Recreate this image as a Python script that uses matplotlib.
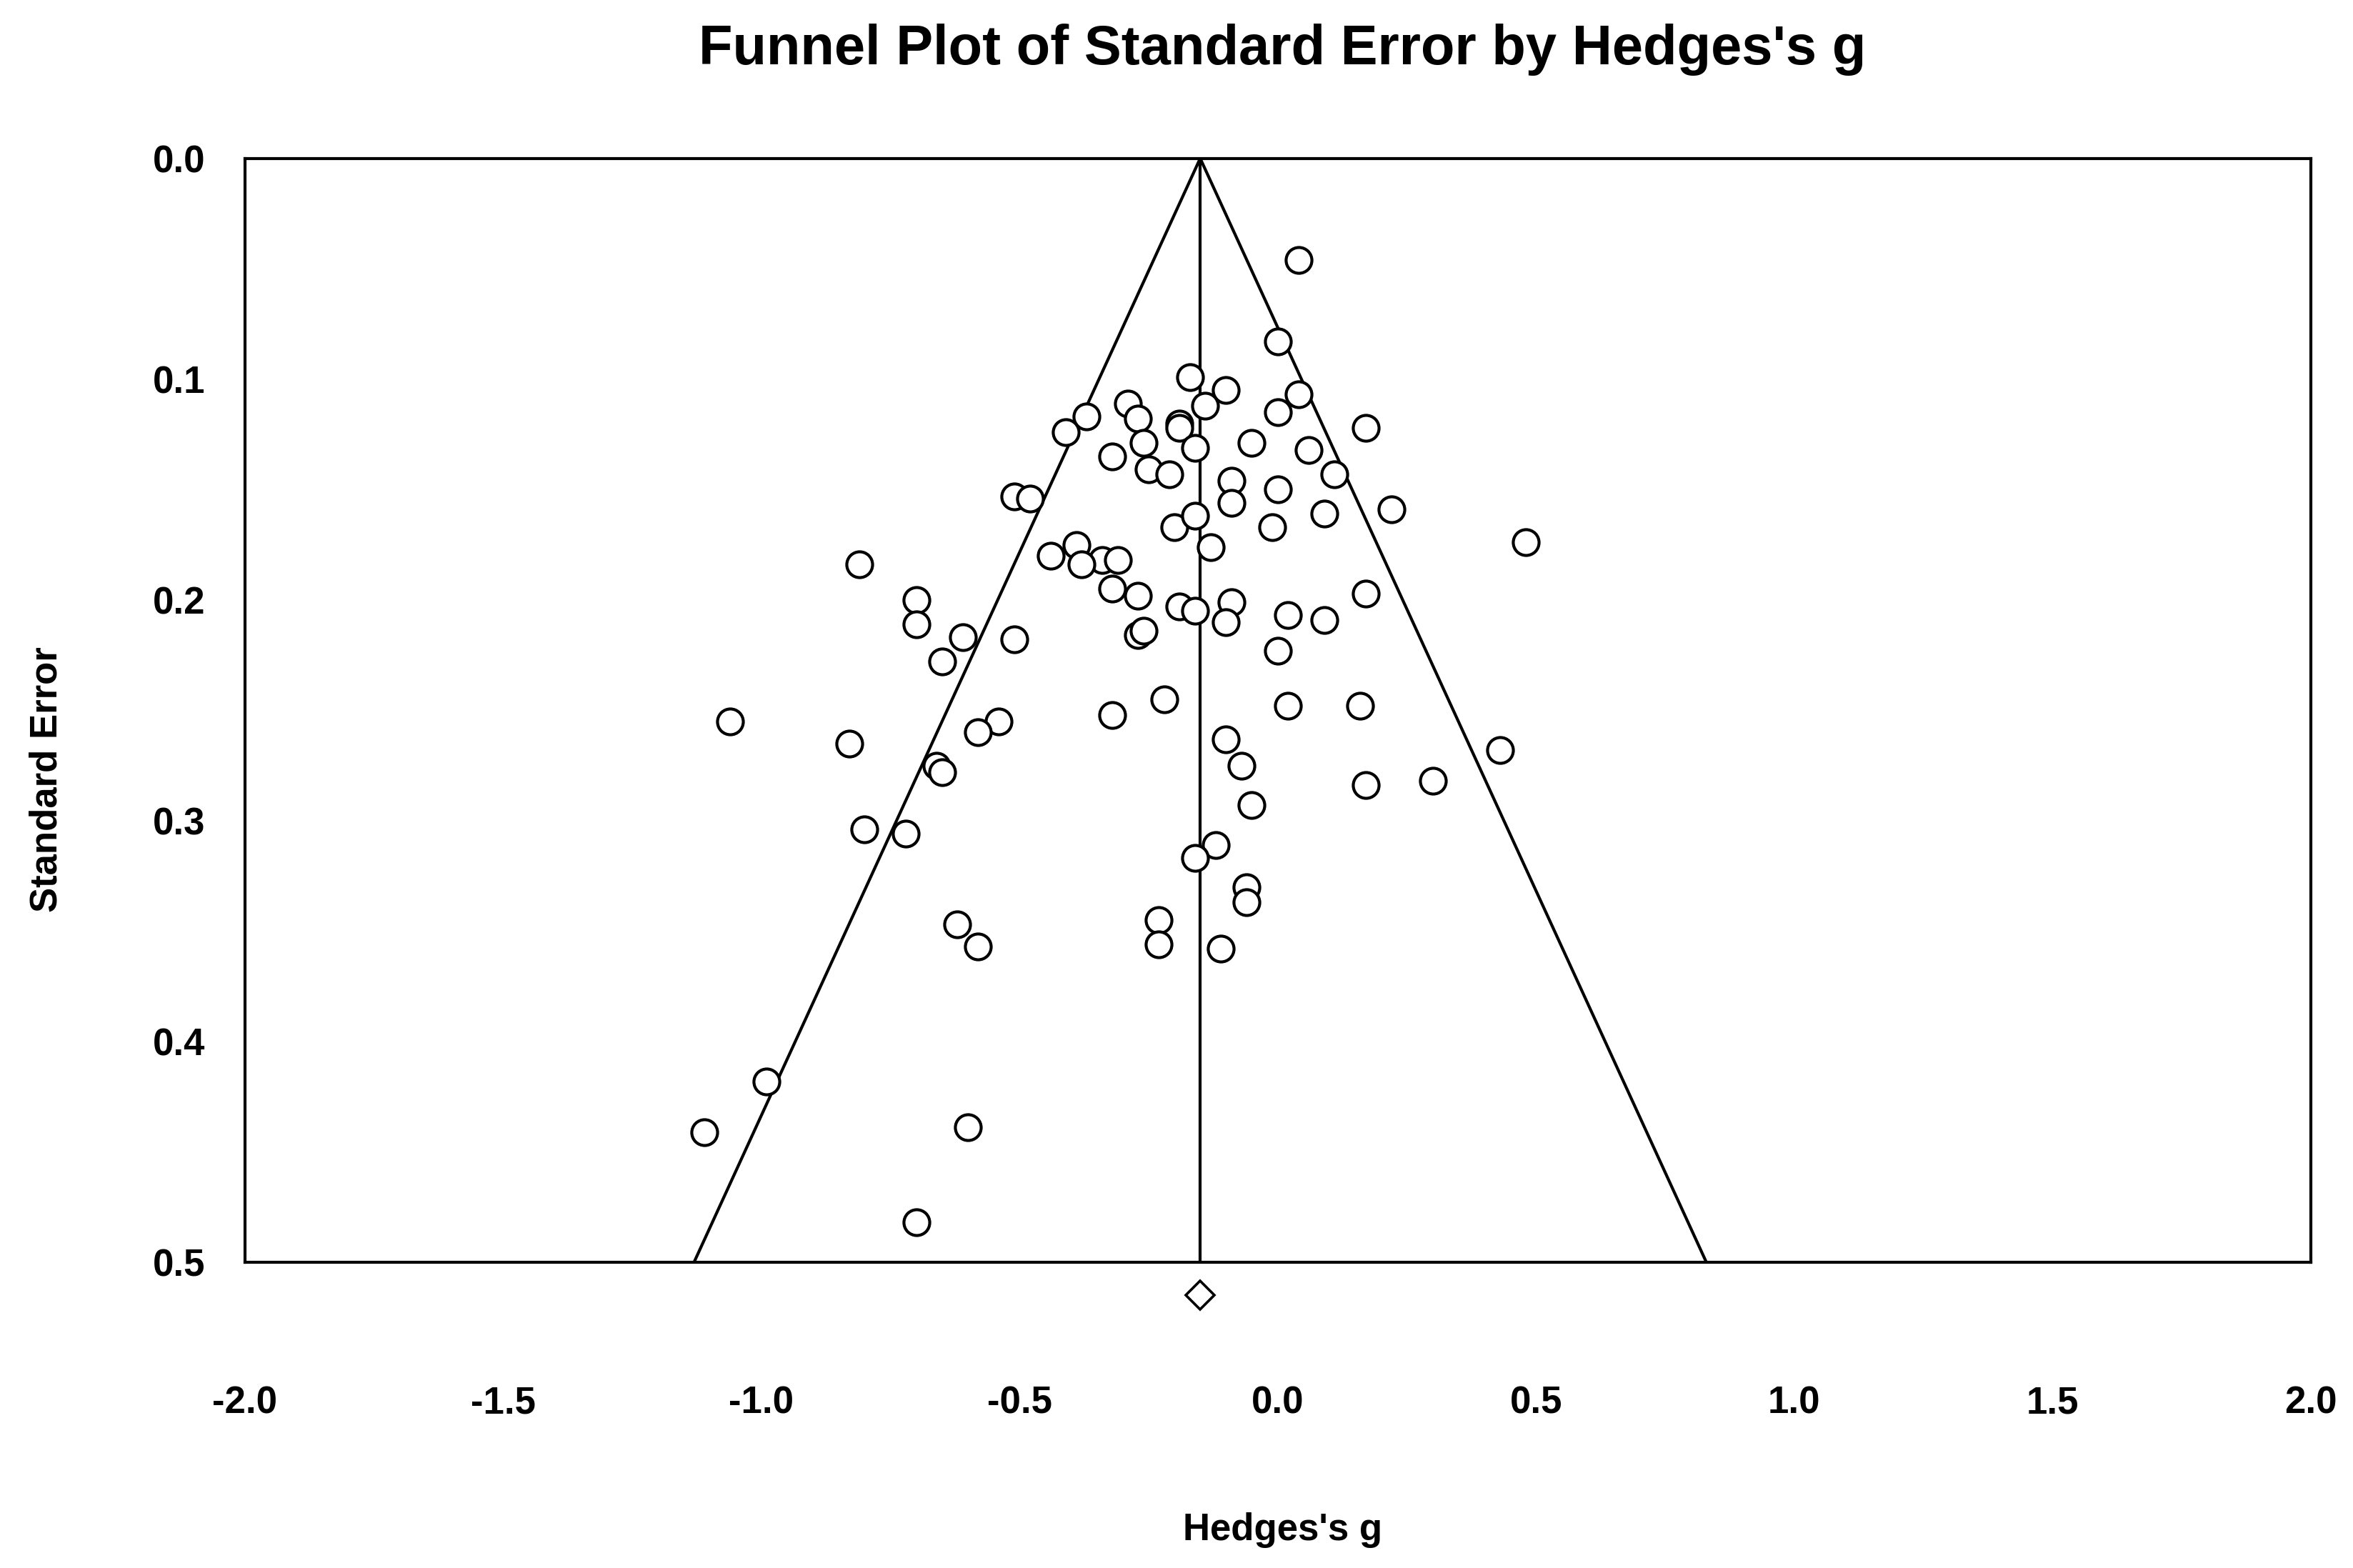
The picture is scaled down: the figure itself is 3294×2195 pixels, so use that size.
import matplotlib.pyplot as plt

plt.rcParams['font.family'] = ['Liberation Sans', 'DejaVu Sans']
plt.rcParams['font.weight'] = 'bold'

# study effects (Hedges's g) and standard errors
hedges_g = [0.04, 0.00, -0.17, -0.10, 0.04, -0.14, 0.00, -0.29, -0.27, -0.37,
            -0.41, -0.19, -0.19, -0.26, 0.17, -0.16, -0.05, -0.32, -0.25, -0.21,
            0.06, 0.11, -0.09, 0.00, -0.51, -0.48, -0.09, 0.22, 0.09, -0.20,
            -0.16, -0.01, -0.13, 0.48, -0.39, -0.44, -0.34, -0.38, -0.31, -0.81,
            -0.32, -0.27, -0.19, -0.16, -0.09, 0.17, -0.70, -0.70, -0.10, 0.02,
            0.09, -0.27, -0.26, -0.61, -0.51, 0.00, -0.65, -0.22, -0.32, 0.16,
            0.02, -1.06, -0.54, -0.58, -0.83, -0.10, 0.43, -0.66, -0.65, -0.07,
            0.17, 0.30, -0.05, -0.80, -0.72, -0.12, -0.16, -0.06, -0.06, -0.62,
            -0.23, -0.58, -0.23, -0.11, -0.99, -1.11, -0.60, -0.70]
std_err = [0.046, 0.083, 0.099, 0.105, 0.107, 0.112, 0.115, 0.111, 0.118, 0.117,
           0.124, 0.120, 0.122, 0.129, 0.122, 0.131, 0.129, 0.135, 0.141, 0.143,
           0.132, 0.143, 0.146, 0.150, 0.153, 0.154, 0.156, 0.159, 0.161, 0.167,
           0.162, 0.167, 0.176, 0.174, 0.175, 0.180, 0.182, 0.184, 0.182, 0.184,
           0.195, 0.198, 0.203, 0.205, 0.201, 0.197, 0.200, 0.211, 0.210, 0.207,
           0.209, 0.216, 0.214, 0.217, 0.218, 0.223, 0.228, 0.245, 0.252, 0.248,
           0.248, 0.255, 0.255, 0.260, 0.265, 0.263, 0.268, 0.275, 0.278, 0.275,
           0.284, 0.282, 0.293, 0.304, 0.306, 0.311, 0.317, 0.330, 0.337, 0.347,
           0.345, 0.357, 0.356, 0.358, 0.418, 0.441, 0.439, 0.482]

pooled_g = -0.15
se_max = 0.5
diamond_se = 0.515

fig = plt.figure(figsize=(16.47, 10.975), dpi=200)
ax = fig.add_axes([0.104, 0.195, 0.878, 0.704])

# funnel (95% limits) and mean line
ax.plot([pooled_g - 1.96 * se_max, pooled_g, pooled_g + 1.96 * se_max],
        [se_max, 0, se_max], color='black', lw=1.5)
ax.plot([pooled_g, pooled_g], [0, se_max], color='black', lw=1.5)

ax.plot(hedges_g, std_err, 'o', ms=13, mfc='white', mec='black', mew=1.5,
        linestyle='none')
ax.plot([pooled_g], [diamond_se], 'D', ms=10, mfc='white', mec='black',
        mew=1.3, clip_on=False)

ax.set_xlim(-2.0, 2.0)
ax.set_ylim(0.5, 0.0)
ax.set_xticks([-2.0, -1.5, -1.0, -0.5, 0.0, 0.5, 1.0, 1.5, 2.0])
ax.set_yticks([0.0, 0.1, 0.2, 0.3, 0.4, 0.5])
ax.xaxis.set_major_formatter(plt.FormatStrFormatter('%.1f'))
ax.yaxis.set_major_formatter(plt.FormatStrFormatter('%.1f'))
ax.tick_params(axis='x', length=0, pad=62, labelsize=19)
ax.tick_params(axis='y', length=0, pad=20, labelsize=19)
for s in ax.spines.values():
    s.set_linewidth(1.5)

fig.text(0.545, 0.024, "Hedges's g", fontsize=19, fontweight='bold',
         ha='center', va='center')
fig.text(0.020, 0.503, 'Standard Error', fontsize=19, fontweight='bold',
         rotation=90, ha='center', va='center')
fig.suptitle("Funnel Plot of Standard Error by Hedges's g", fontsize=28,
             fontweight='bold', x=0.545, y=0.985)

fig.savefig('out.png', dpi=200)
